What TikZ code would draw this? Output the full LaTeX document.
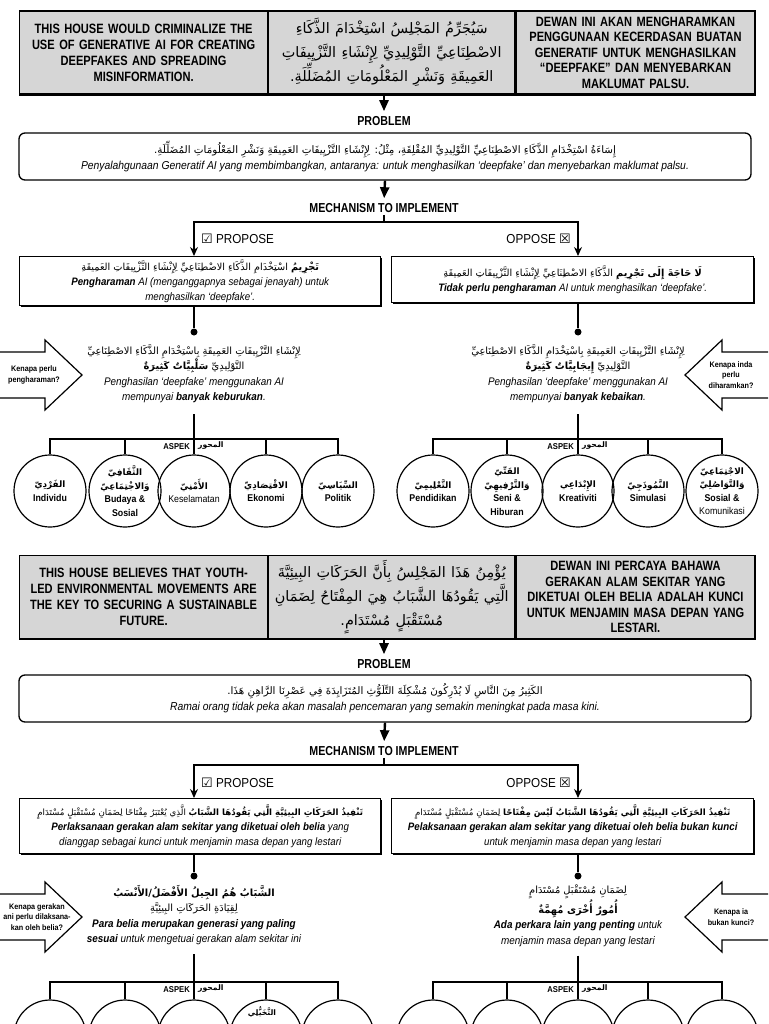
\documentclass[tikz,border=0pt]{standalone}
\usepackage{fontspec}
\setmainfont{Liberation Sans}[FakeStretch=0.9]
\newfontfamily\hdrfont{Liberation Sans}[FakeStretch=0.82]
\newfontfamily\arabicfont[Script=Arabic,Scale=0.9]{DejaVu Sans}
\newfontfamily\symfont{DejaVu Sans}
\TeXXeTstate=1
\usetikzlibrary{arrows.meta}
\usetikzlibrary{shadows}

\newcommand{\artxt}[1]{{\arabicfont\upshape\beginR #1\endR}}

\tikzset{
  hdrcell/.style={draw, line width=1.2pt, fill=black!16, minimum height=83pt,
    inner xsep=5pt, align=center, font=\hdrfont\fontsize{13.5}{16}\selectfont\bfseries},
  hdrarab/.style={font=\fontsize{16}{24}\selectfont},
  steplbl/.style={font=\hdrfont\fontsize{13}{14}\selectfont\bfseries, inner sep=2pt},
  sidelbl/.style={font=\fontsize{13}{14}\selectfont, inner sep=2pt},
  probbox/.style={draw, line width=1.3pt, rounded corners=6pt, minimum width=732pt,
    minimum height=47pt, align=center, font=\fontsize{11.5}{16}\selectfont\itshape},
  mechbox/.style={draw, line width=1.4pt, fill=white,
    drop shadow={shadow xshift=1.2pt, shadow yshift=-1.5pt, opacity=1, fill=black},
    minimum height=46pt, align=center, font=\fontsize{10.8}{15}\selectfont\itshape},
  midtxt/.style={align=center, font=\fontsize{11}{15.5}\selectfont\itshape, inner sep=1pt},
  dot/.style={circle, fill=black, inner sep=0pt, minimum size=7pt},
  circ/.style={draw, circle, line width=1.2pt, minimum size=72pt, inner sep=0pt,
    align=center, font=\fontsize{9.8}{13.5}\selectfont\bfseries},
  asplbl/.style={font=\fontsize{8.5}{10}\selectfont\bfseries, inner sep=1pt},
  whylbl/.style={align=center, font=\fontsize{8}{10.5}\selectfont\bfseries, inner sep=0pt},
  tri/.style={line width=2.4pt, -{Triangle[width=9pt, length=11pt]}},
  conn/.style={line width=1.3pt},
  connarr/.style={line width=1.3pt, -{Stealth[width=8pt, length=9pt]}},
  blockarr/.style={line width=1.2pt, line join=miter}
}

\begin{document}
\begin{tikzpicture}[x=1pt, y=-1pt]
  \useasboundingbox (0,0) rectangle (768,1024);

  % ---------- motion 1 ----------
  \node[hdrcell, text width=238pt, anchor=west] (hdrAen) at (19,52.5)
    {THIS HOUSE WOULD CRIMINALIZE THE\\USE OF GENERATIVE AI FOR CREATING\\DEEPFAKES AND SPREADING\\MISINFORMATION.};
  \node[hdrcell, hdrarab, text width=236pt, anchor=west] (hdrAar) at (hdrAen.east)
    {\artxt{سَيُجَرِّمُ المَجْلِسُ اسْتِخْدَامَ الذَّكَاءِ}\\\artxt{الاصْطِنَاعِيِّ التَّوْلِيدِيِّ لِإِنْشَاءِ التَّزْيِيفَاتِ}\\\artxt{العَمِيقَةِ وَنَشْرِ المَعْلُومَاتِ المُضَلِّلَةِ.}};
  \node[hdrcell, text width=229pt, anchor=west, font=\hdrfont\fontsize{13.5}{15.5}\selectfont\bfseries] (hdrAms) at (hdrAar.east)
    {DEWAN INI AKAN MENGHARAMKAN\\PENGGUNAAN KECERDASAN BUATAN\\GENERATIF UNTUK MENGHASILKAN\\“DEEPFAKE” DAN MENYEBARKAN\\MAKLUMAT PALSU.};
  \draw[line width=2.6pt] (hdrAen.south west) -- (hdrAms.south east);

  \node[steplbl] (probA) at (384,121) {PROBLEM};
  \draw[tri, shorten >=3pt] (hdrAen.south -| probA) -- (probA.north);
  \node[probbox] (probboxA) at (385,156.5)
    {\artxt{إِسَاءَةُ اسْتِخْدَامِ الذَّكَاءِ الاصْطِنَاعِيِّ التَّوْلِيدِيِّ المُقْلِقَةِ، مِثْلُ: لِإِنْشَاءِ التَّزْيِيفَاتِ العَمِيقَةِ وَنَشْرِ المَعْلُومَاتِ المُضَلِّلَةِ.}\\Penyalahgunaan Generatif AI yang membimbangkan, antaranya: untuk menghasilkan ‘deepfake’ dan menyebarkan maklumat palsu.};

  \node[steplbl] (mechA) at (384,208) {MECHANISM TO IMPLEMENT};
  \draw[tri, shorten >=3pt] (probboxA.south) -- (mechA.north);
  \coordinate (jA) at (384,222);

  \node[mechbox, minimum width=361pt, anchor=north west] (propA) at (19,256)
    {\artxt{\textbf{تَجْرِيمُ} اسْتِخْدَامِ الذَّكَاءِ الاصْطِنَاعِيِّ لِإِنْشَاءِ التَّزْيِيفَاتِ العَمِيقَةِ}\\\textbf{Pengharaman} AI (menganggapnya sebagai jenayah) untuk\\menghasilkan ‘deepfake’.};
  \node[mechbox, minimum width=362pt, anchor=north west] (oppA) at (391,256)
    {\artxt{\textbf{لَا حَاجَةَ إِلَى تَجْرِيمِ} الذَّكَاءِ الاصْطِنَاعِيِّ لِإِنْشَاءِ التَّزْيِيفَاتِ العَمِيقَةِ}\\\textbf{Tidak perlu pengharaman} AI untuk menghasilkan ‘deepfake’.};
  \node[sidelbl, anchor=west] (propsA) at (199,239) {{\symfont ☑} PROPOSE};
  \node[sidelbl, anchor=east] (oppsA) at (573,239) {OPPOSE {\symfont ☒}};

  \node[dot] (dotLA) at (194,332) {};
  \node[dot] (dotRA) at (578,332) {};
  \draw[conn] (mechA.south) -- (jA);
  \draw[connarr] (jA) -| (propA.north -| dotLA);
  \draw[connarr] (jA) -| (oppA.north -| dotRA);
  \draw[conn] (propA.south -| dotLA) -- (dotLA);
  \draw[conn] (oppA.south -| dotRA) -- (dotRA);

  \node[midtxt, anchor=north] (midLA) at (194,343)
    {\artxt{لِإِنْشَاءِ التَّزْيِيفَاتِ العَمِيقَةِ بِاسْتِخْدَامِ الذَّكَاءِ الاصْطِنَاعِيِّ}\\\artxt{التَّوْلِيدِيِّ \textbf{سَلْبِيَّاتٌ كَثِيرَةٌ}}\\Penghasilan ‘deepfake’ menggunakan AI\\mempunyai \textbf{banyak keburukan}.};
  \node[midtxt, anchor=north] (midRA) at (578,343)
    {\artxt{لِإِنْشَاءِ التَّزْيِيفَاتِ العَمِيقَةِ بِاسْتِخْدَامِ الذَّكَاءِ الاصْطِنَاعِيِّ}\\\artxt{التَّوْلِيدِيِّ \textbf{إِيجَابِيَّاتٌ كَثِيرَةٌ}}\\Penghasilan ‘deepfake’ menggunakan AI\\mempunyai \textbf{banyak kebaikan}.};

  \node[whylbl] (whyLA) at (34,375) {Kenapa perlu\\pengharaman?};
  \draw[blockarr] (0,352) -- (45,352) -- (45,340) -- (82,375) -- (45,410) -- (45,398) -- (0,398);
  \node[whylbl] (whyRA) at (731,375) {Kenapa inda\\perlu\\diharamkan?};
  \draw[blockarr] (768,352) -- (722,352) -- (722,340) -- (685,375) -- (722,410) -- (722,398) -- (768,398);

  % aspects, motion 1
  \node[circ] (cLA1) at (50,491) {\artxt{الفَرْدِيّ}\\Individu};
  \node[circ] (cLA2) at (125,491) {\artxt{الثَّقَافِيّ}\\\artxt{وَالاجْتِمَاعِيّ}\\Budaya \&\\Sosial};
  \node[circ] (cLA3) at (194,491) {\artxt{الأَمْنِيّ}\\\mdseries Keselamatan};
  \node[circ] (cLA4) at (266,491) {\artxt{الاقْتِصَادِيّ}\\Ekonomi};
  \node[circ] (cLA5) at (338,491) {\artxt{السِّيَاسِيّ}\\Politik};
  \coordinate (busLA) at (194,439);
  \draw[conn, shorten <=10pt] (midLA.south) -- (cLA3.north);
  \draw[conn] (cLA1.north) -- (cLA1.north |- busLA) -- (cLA5.north |- busLA) -- (cLA5.north);
  \draw[conn] (cLA2.north) -- (cLA2.north |- busLA);
  \draw[conn] (cLA4.north) -- (cLA4.north |- busLA);
  \node[asplbl, anchor=east] (aspLA) at (191,447) {ASPEK};
  \node[asplbl, anchor=west] (mhwLA) at (197,446) {\artxt{المحور}};

  \node[circ] (cRA1) at (433,491) {\artxt{التَّعْلِيمِيّ}\\Pendidikan};
  \node[circ] (cRA2) at (507,491) {\artxt{الفَنِّيّ}\\\artxt{وَالتَّرْفِيهِيّ}\\Seni \&\\Hiburan};
  \node[circ] (cRA3) at (578,491) {\artxt{الإِبْدَاعِي}\\Kreativiti};
  \node[circ] (cRA4) at (648,491) {\artxt{النَّمُوذَجِيّ}\\Simulasi};
  \node[circ] (cRA5) at (722,491) {\artxt{الاجْتِمَاعِيّ}\\\artxt{وَالتَّوَاصُلِيّ}\\Sosial \&\\\mdseries Komunikasi};
  \coordinate (busRA) at (578,439);
  \draw[conn, shorten <=10pt] (midRA.south) -- (cRA3.north);
  \draw[conn] (cRA1.north) -- (cRA1.north |- busRA) -- (cRA5.north |- busRA) -- (cRA5.north);
  \draw[conn] (cRA2.north) -- (cRA2.north |- busRA);
  \draw[conn] (cRA4.north) -- (cRA4.north |- busRA);
  \node[asplbl, anchor=east] (aspRA) at (575,447) {ASPEK};
  \node[asplbl, anchor=west] (mhwRA) at (581,446) {\artxt{المحور}};

  % ---------- motion 2 ----------
  \node[hdrcell, text width=238pt, anchor=west] (hdrBen) at (19,597)
    {THIS HOUSE BELIEVES THAT YOUTH-\\LED ENVIRONMENTAL MOVEMENTS ARE\\THE KEY TO SECURING A SUSTAINABLE\\FUTURE.};
  \node[hdrcell, hdrarab, text width=236pt, anchor=west] (hdrBar) at (hdrBen.east)
    {\artxt{يُؤْمِنُ هَذَا المَجْلِسُ بِأَنَّ الحَرَكَاتِ البِيئِيَّةَ}\\\artxt{الَّتِي يَقُودُهَا الشَّبَابُ هِيَ المِفْتَاحُ لِضَمَانِ}\\\artxt{مُسْتَقْبَلٍ مُسْتَدَامٍ.}};
  \node[hdrcell, text width=229pt, anchor=west, font=\hdrfont\fontsize{13.5}{15.5}\selectfont\bfseries] (hdrBms) at (hdrBar.east)
    {DEWAN INI PERCAYA BAHAWA\\GERAKAN ALAM SEKITAR YANG\\DIKETUAI OLEH BELIA ADALAH KUNCI\\UNTUK MENJAMIN MASA DEPAN YANG\\LESTARI.};
  \draw[line width=2.6pt] (hdrBen.south west) -- (hdrBms.south east);

  \node[steplbl] (probB) at (384,664) {PROBLEM};
  \draw[tri, shorten >=3pt] (hdrBen.south -| probB) -- (probB.north);
  \node[probbox] (probboxB) at (385,698.5)
    {\artxt{الكَثِيرُ مِنَ النَّاسِ لَا يُدْرِكُونَ مُشْكِلَةَ التَّلَوُّثِ المُتَزَايِدَةَ فِي عَصْرِنَا الرَّاهِنِ هَذَا.}\\Ramai orang tidak peka akan masalah pencemaran yang semakin meningkat pada masa kini.};

  \node[steplbl] (mechB) at (384,751) {MECHANISM TO IMPLEMENT};
  \draw[tri, shorten >=3pt] (probboxB.south) -- (mechB.north);
  \coordinate (jB) at (384,765);

  \node[mechbox, minimum width=361pt, minimum height=55pt, anchor=north west] (propB) at (19,798)
    {{\fontsize{9.6}{14}\selectfont\artxt{\textbf{تَنْفِيذُ الحَرَكَاتِ البِيئِيَّةِ الَّتِي يَقُودُهَا الشَّبَابُ} الَّذِي يُعْتَبَرُ مِفْتَاحًا لِضَمَانِ مُسْتَقْبَلٍ مُسْتَدَامٍ}}\\\textbf{Perlaksanaan gerakan alam sekitar yang diketuai oleh belia} yang\\dianggap sebagai kunci untuk menjamin masa depan yang lestari};
  \node[mechbox, minimum width=362pt, minimum height=55pt, anchor=north west] (oppB) at (391,798)
    {{\fontsize{9.6}{14}\selectfont\artxt{\textbf{تَنْفِيذُ الحَرَكَاتِ البِيئِيَّةِ الَّتِي يَقُودُهَا الشَّبَابُ لَيْسَ مِفْتَاحًا} لِضَمَانِ مُسْتَقْبَلٍ مُسْتَدَامٍ}}\\\textbf{Pelaksanaan gerakan alam sekitar yang diketuai oleh belia bukan kunci}\\untuk menjamin masa depan yang lestari};
  \node[sidelbl, anchor=west] (propsB) at (199,783) {{\symfont ☑} PROPOSE};
  \node[sidelbl, anchor=east] (oppsB) at (573,783) {OPPOSE {\symfont ☒}};

  \node[dot] (dotLB) at (194,876) {};
  \node[dot] (dotRB) at (578,876) {};
  \draw[conn] (mechB.south) -- (jB);
  \draw[connarr] (jB) -| (propB.north -| dotLB);
  \draw[connarr] (jB) -| (oppB.north -| dotRB);
  \draw[conn] (propB.south -| dotLB) -- (dotLB);
  \draw[conn] (oppB.south -| dotRB) -- (dotRB);

  \node[midtxt, anchor=north] (midLB) at (194,884)
    {\artxt{\textbf{الشَّبَابُ هُمُ الجِيلُ الأَفْضَلُ/الأَنْسَبُ}}\\\artxt{لِقِيَادَةِ الحَرَكَاتِ البِيئِيَّةِ}\\\textbf{Para belia merupakan generasi yang paling}\\\textbf{sesuai} untuk mengetuai gerakan alam sekitar ini};
  \node[midtxt, anchor=north] (midRB) at (578,884)
    {\artxt{لِضَمَانِ مُسْتَقْبَلٍ مُسْتَدَامٍ}\\\artxt{\textbf{أُمُورٌ أُخْرَى مُهِمَّةٌ}}\\\textbf{Ada perkara lain yang penting} untuk\\menjamin masa depan yang lestari};

  \node[whylbl] (whyLB) at (37,917) {Kenapa gerakan\\ani perlu dilaksana-\\kan oleh belia?};
  \draw[blockarr] (0,894) -- (45,894) -- (45,882) -- (82,917) -- (45,952) -- (45,940) -- (0,940);
  \node[whylbl] (whyRB) at (731,917) {Kenapa ia\\bukan kunci?};
  \draw[blockarr] (768,894) -- (722,894) -- (722,882) -- (685,917) -- (722,952) -- (722,940) -- (768,940);

  % aspects, motion 2
  \node[circ] (cLB1) at (50,1036) {};
  \node[circ] (cLB2) at (125,1036) {};
  \node[circ] (cLB3) at (194,1036) {};
  \node[circ] (cLB4) at (266,1036) {};
  \node[circ] (cLB5) at (338,1036) {};
  \node[asplbl] (cLB4t) at (262,1012) {\artxt{التَّخَيُّلِي}};
  \coordinate (busLB) at (194,982);
  \draw[conn, shorten <=8pt] (midLB.south) -- (cLB3.north);
  \draw[conn] (cLB1.north) -- (cLB1.north |- busLB) -- (cLB5.north |- busLB) -- (cLB5.north);
  \draw[conn] (cLB2.north) -- (cLB2.north |- busLB);
  \draw[conn] (cLB4.north) -- (cLB4.north |- busLB);
  \node[asplbl, anchor=east] (aspLB) at (191,990) {ASPEK};
  \node[asplbl, anchor=west] (mhwLB) at (197,989) {\artxt{المحور}};

  \node[circ] (cRB1) at (433,1036) {};
  \node[circ] (cRB2) at (507,1036) {};
  \node[circ] (cRB3) at (578,1036) {};
  \node[circ] (cRB4) at (648,1036) {};
  \node[circ] (cRB5) at (722,1036) {};
  \coordinate (busRB) at (578,982);
  \draw[conn, shorten <=8pt] (midRB.south) -- (cRB3.north);
  \draw[conn] (cRB1.north) -- (cRB1.north |- busRB) -- (cRB5.north |- busRB) -- (cRB5.north);
  \draw[conn] (cRB2.north) -- (cRB2.north |- busRB);
  \draw[conn] (cRB4.north) -- (cRB4.north |- busRB);
  \node[asplbl, anchor=east] (aspRB) at (575,990) {ASPEK};
  \node[asplbl, anchor=west] (mhwRB) at (581,989) {\artxt{المحور}};
\end{tikzpicture}
\end{document}
